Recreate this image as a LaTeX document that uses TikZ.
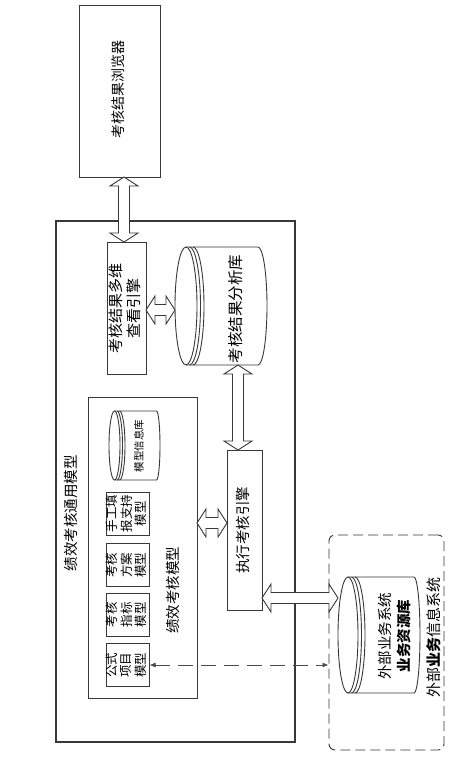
\documentclass[tikz,border=0pt]{standalone}
\usepackage{fontspec}
\usepackage{graphicx}
\setmainfont{Noto Sans CJK SC}
\usetikzlibrary{calc,arrows.meta}
\newcommand{\fs}[1]{\fontsize{#1}{#1}\selectfont}
\newcommand{\rot}[1]{\rotatebox{90}{\begin{tabular}{@{}c@{}}#1\end{tabular}}}
% vertical fat double arrow: #1 top point, #2 bottom point (x taken from #2)
\newcommand{\fatV}[2]{\draw[fat] let \p1=(#1), \p2=(#2) in
  (\x2,\y1) -- ++(14,-9) -- ++(-8.5,0) -- (\x2+5.5pt,\y2+9pt) -- ++(8.5,0) -- (\x2,\y2)
  -- ++(-14,9) -- ++(8.5,0) -- (\x2-5.5pt,\y1-9pt) -- ++(-8.5,0) -- cycle;}
% horizontal fat double arrow: #1 left point, #2 right point (y taken from #2)
\newcommand{\fatH}[2]{\draw[fat] let \p1=(#1), \p2=(#2) in
  (\x1,\y2) -- ++(9,14) -- ++(0,-8.5) -- (\x2-9pt,\y2+5.5pt) -- ++(0,8.5) -- (\x2,\y2)
  -- ++(-9,-14) -- ++(0,8.5) -- (\x1+9pt,\y2-5.5pt) -- ++(0,-8.5) -- cycle;}
% database cylinder lying on its side: name, x1, y1, x2, y2, rx(left), rx(right), band
\newcommand{\dbcyl}[8]{%
  \pgfmathsetmacro\cw{#4-#2}\pgfmathsetmacro\ch{#5-#3}%
  \pgfmathsetmacro\cx{(#2+#4)/2}\pgfmathsetmacro\cy{(#3+#5)/2}%
  \pgfmathsetmacro\ry{(#5-#3)/2}%
  \node[minimum width=\cw pt, minimum height=\ch pt, inner sep=0pt, outer sep=0pt] (#1) at (\cx,-\cy) {};
  \draw[ln,fill=white] (#2+#6,-#3) -- (#4-#7,-#3) arc[start angle=90,end angle=-90,x radius=#7,y radius=\ry] -- (#2+#6,-#5);
  \draw[ln] (#2+#6,-\cy) ellipse[x radius=#6,y radius=\ry];
  \draw[ln] (#2+#6+#8,-#3) arc[start angle=90,end angle=-90,x radius=#6,y radius=\ry];
  \draw[ln] (#2+#6+2*#8,-#3) arc[start angle=90,end angle=-90,x radius=#6,y radius=\ry];
}
\begin{document}
\begin{tikzpicture}[x=1pt,y=1pt,
  ln/.style={draw=black!78,line width=0.9pt},
  box/.style={ln,rectangle,inner sep=0pt,outer sep=0pt,text=black},
  fat/.style={draw=black!78,line width=0.9pt,fill=white},
  txt/.style={inner sep=0pt,text=black},
  dashconn/.style={draw=black!70,line width=0.9pt,dash pattern=on 15pt off 8pt,
     {Latex[length=6pt,width=5pt]}-{Latex[length=6pt,width=5pt]}}
]
\useasboundingbox (0,0) rectangle (474,-772);
\fill[white] (0,0) rectangle (474,-772);

% browser
\node[box,minimum width=81pt,minimum height=172pt] (browser) at (119.5,-91)
  {\raisebox{4pt}{\fs{14}\rot{考核结果浏览器}}};

% outer model box
\node[box,line width=1.3pt,minimum width=239pt,minimum height=521pt] (outer) at (175.5,-481.5) {};
\node[txt] (outerlbl) at (73,-513) {\fs{14.5}\rot{绩效考核通用模型}};

% multi-dim view engine
\node[box,fill=white,minimum width=39pt,minimum height=132pt] (mdv) at (126.5,-308)
  {\fs{15}\renewcommand{\arraystretch}{1.13}\rot{考核结果多维\\查看引擎}};

% result analysis database
\dbcyl{cylA}{175}{247}{267}{365}{11}{9}{3.5}
\node[txt] (cylAlbl) at (237,-309) {\fs{15.5}\rot{考核结果分析库}};

% execute engine
\node[box,fill=white,minimum width=35pt,minimum height=160pt] (exec) at (244.5,-530)
  {\fs{14.5}\rot{执行考核引擎}};

% inner model box
\node[box,minimum width=109pt,minimum height=301pt] (inner) at (142.5,-547.5) {};
\node[txt] (innerlbl) at (175,-590) {\fs{14.5}\rot{绩效考核模型}};

% small model boxes
\begin{scope}[every node/.append style={box,minimum width=42pt,minimum height=43pt}]
\node (m1) at (128,-513.5) {\fs{12.5}\renewcommand{\arraystretch}{1.08}\rot{手工填\\报支持\\模型}};
\node (m2) at (128,-565) {\fs{12.5}\renewcommand{\arraystretch}{1.08}\rot{考核\\方案\\模型}};
\node (m3) at (128,-614.5) {\fs{12.5}\renewcommand{\arraystretch}{1.08}\rot{考核\\指标\\模型}};
\node (m4) at (128,-665) {\fs{12.5}\renewcommand{\arraystretch}{1.08}\rot{公式\\项目\\模型}};
\end{scope}

% model info database
\dbcyl{cylB}{109}{411}{160}{480}{5.5}{3.5}{2.5}
\node[txt] (cylBlbl) at (140,-446) {\fs{10.5}\rot{模型信息库}};

% external system
\node[ln,dash pattern=on 10pt off 5pt,rounded corners=6pt,minimum width=115pt,minimum height=215pt,inner sep=0pt] (extbox) at (386.5,-642.5) {};
\dbcyl{extcyl}{338}{577}{420}{693}{10}{6}{3.5}
\node[txt] (extcyllbl) at (396.5,-636) {\fs{14.5}\renewcommand{\arraystretch}{1.3}\rot{外部业务系统\\\textbf{业务资源库}}};
\node[txt] (extlbl) at (435,-637) {\fs{15}\rot{外部\textbf{业务}信息系统}};

% fat arrows
\fatV{browser.south}{$(mdv.north)+(-2.5,0)$}
\fatH{mdv.east}{$(cylA.west)+(0,-4)$}
\fatV{cylA.south}{$(exec.north)+(-6.5,0)$}
\fatH{inner.east}{$(exec.west)+(0,7)$}
\fatH{exec.east}{$(extcyl.west)+(0,37)$}

% dashed link
\draw[dashconn] (m4.east) -- (extbox.west |- m4.east);
\end{tikzpicture}
\end{document}
